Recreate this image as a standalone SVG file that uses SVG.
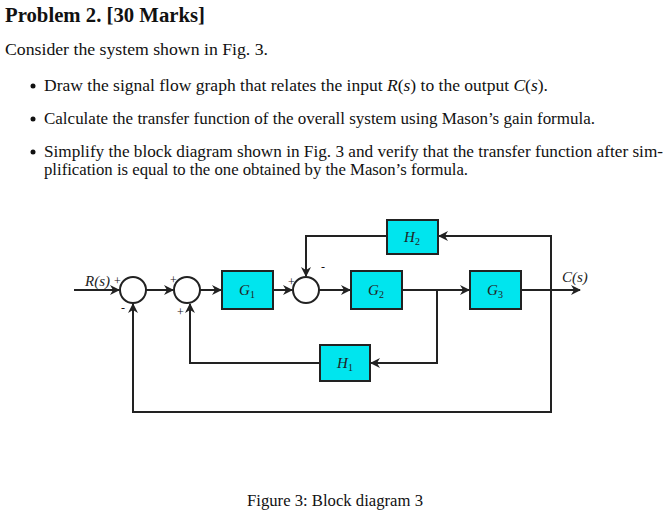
<svg xmlns="http://www.w3.org/2000/svg" width="669" height="517" viewBox="0 0 669 517">
<style>
.t{font-family:"Liberation Serif",serif;font-size:16px;fill:#111}
.m{font-family:"Liberation Serif",serif;font-size:15px;font-style:italic;fill:#222}
.s{font-family:"Liberation Serif",serif;font-size:12px;fill:#111}
.b{fill:#00e5ee;stroke:#222;stroke-width:2}
.c{fill:#fff;stroke:#222;stroke-width:2}
.l{fill:none;stroke:#222;stroke-width:2}
</style>
<defs><marker id="a" viewBox="0 0 10 10" refX="9" refY="5" markerWidth="5" markerHeight="5" orient="auto"><path d="M0,0L10,5L0,10L3,5z" fill="#222"/></marker></defs>
<rect width="669" height="517" fill="#fff"/>
<text x="5" y="22" style="font-family:'Liberation Serif',serif;font-size:20px;font-weight:bold" fill="#111" textLength="200" lengthAdjust="spacingAndGlyphs">Problem 2. [30 Marks]</text>
<text class="t" x="5" y="55" textLength="263" lengthAdjust="spacingAndGlyphs">Consider the system shown in Fig. 3.</text>
<circle cx="33" cy="86" r="2.5" fill="#111"/><circle cx="33" cy="119" r="2.5" fill="#111"/><circle cx="33" cy="152" r="2.5" fill="#111"/>
<text class="t" x="44" y="91" textLength="504" lengthAdjust="spacingAndGlyphs">Draw the signal flow graph that relates the input <tspan font-style="italic">R</tspan>(<tspan font-style="italic">s</tspan>) to the output <tspan font-style="italic">C</tspan>(<tspan font-style="italic">s</tspan>).</text>
<text class="t" x="44" y="124" textLength="551" lengthAdjust="spacingAndGlyphs">Calculate the transfer function of the overall system using Mason’s gain formula.</text>
<text class="t" x="44" y="157" textLength="619" lengthAdjust="spacingAndGlyphs">Simplify the block diagram shown in Fig. 3 and verify that the transfer function after sim-</text>
<text class="t" x="44" y="175" textLength="424" lengthAdjust="spacingAndGlyphs">plification is equal to the one obtained by the Mason’s formula.</text>
<g id="connectors">
<path class="l" d="M74,290H119" marker-end="url(#a)"/>
<path class="l" d="M146,290H173" marker-end="url(#a)"/>
<path class="l" d="M200,290H221" marker-end="url(#a)"/>
<path class="l" d="M273,290H292" marker-end="url(#a)"/>
<path class="l" d="M319,290H350" marker-end="url(#a)"/>
<path class="l" d="M402,290H469" marker-end="url(#a)"/>
<path class="l" d="M521,290H580" marker-end="url(#a)"/>
<path class="l" d="M551,290V236H439" marker-end="url(#a)"/>
<path class="l" d="M387,236H306V276" marker-end="url(#a)"/>
<path class="l" d="M437,290V363H371" marker-end="url(#a)"/>
<path class="l" d="M320,363H190V304" marker-end="url(#a)"/>
<path class="l" d="M551,290V412H133V304" marker-end="url(#a)"/>
</g>
<g id="sum1"><circle class="c" cx="133" cy="290" r="13"/></g>
<g id="sum2"><circle class="c" cx="187" cy="290" r="13"/></g>
<g id="sum3"><circle class="c" cx="306" cy="290" r="13"/></g>
<g id="G1"><rect class="b" x="222" y="271" width="51" height="38"/><text class="m" x="247" y="295" text-anchor="middle">G<tspan font-size="10" font-style="normal" dy="3">1</tspan></text></g>
<g id="G2"><rect class="b" x="351" y="271" width="51" height="38"/><text class="m" x="376" y="295" text-anchor="middle">G<tspan font-size="10" font-style="normal" dy="3">2</tspan></text></g>
<g id="G3"><rect class="b" x="470" y="271" width="51" height="38"/><text class="m" x="495" y="295" text-anchor="middle">G<tspan font-size="10" font-style="normal" dy="3">3</tspan></text></g>
<g id="H2"><rect class="b" x="387" y="220" width="51" height="34"/><text class="m" x="412" y="242" text-anchor="middle">H<tspan font-size="10" font-style="normal" dy="3">2</tspan></text></g>
<g id="H1"><rect class="b" x="320" y="345" width="50" height="36"/><text class="m" x="345" y="368" text-anchor="middle">H<tspan font-size="10" font-style="normal" dy="3">1</tspan></text></g>
<text class="m" x="85" y="286">R(s)</text>
<text class="m" x="562" y="282">C(s)</text>
<text class="s" x="114" y="285">+</text><text class="s" x="121" y="312">-</text>
<text class="s" x="170" y="284">+</text><text class="s" x="177" y="316">+</text>
<text class="s" x="288" y="286">+</text><text class="s" x="321" y="271">-</text>
<text class="t" x="247" y="506" textLength="176" lengthAdjust="spacingAndGlyphs">Figure 3: Block diagram 3</text>
</svg>
